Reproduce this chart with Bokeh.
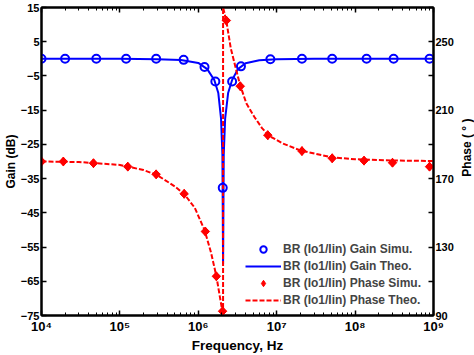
import math
from bokeh.plotting import figure
from bokeh.layouts import row
from bokeh.models import (Range1d, LinearAxis, LogAxis, Legend, LegendItem,
                          FixedTicker, LogTicker)
from bokeh.core.properties import value
from bokeh.embed import file_html
from bokeh.resources import INLINE

# ---------------- data ----------------
gain_sim_f = [1e4, 2e4, 5e4, 1.2e5, 2.9e5, 6.5e5, 1.2e6, 1.65e6, 2.05e6,
              2.7e6, 3.5e6, 8.3e6, 2.1e7, 5.1e7, 1.4e8, 3.1e8, 8.9e8]
gain_sim_db = [0, 0, 0, 0, 0, -0.3, -2.4, -6.6, -37.7,
               -6.6, -2.2, -0.1, 0, 0, 0, 0, 0]

phase_sim_f = [1e4, 1.9e4, 4.6e4, 1.26e5, 2.9e5, 6.6e5, 1.23e6, 1.7e6, 2.04e6,
               2.28e6, 3.43e6, 7.7e6, 2.1e7, 5.1e7, 1.3e8, 3.0e8, 8.9e8]
phase_sim_deg = [180, 180, 179, 177, 172.5, 161.1, 139.1, 112.9, 92.5,
                 262.4, 224, 195.4, 186.1, 181.9, 180.5, 179.3, 177]

gain_theo_f = [1e4, 1e5, 3e5, 6e5, 1e6, 1.3e6, 1.6e6, 1.8e6, 1.95e6, 2.03e6,
               2.07e6, 2.11e6, 2.2e6, 2.4e6, 2.7e6, 3.2e6, 4e6, 6e6, 1e7,
               3e7, 1e8, 1e9]
gain_theo_db = [0, 0, -0.1, -0.35, -1.2, -3.0, -6.2, -10, -17.5, -28,
                -60, -28, -17.5, -10, -6.2, -3.0, -1.3, -0.4, -0.1,
                0, 0, 0]

phase_theo_f = [1e4, 3e4, 1e5, 2e5, 3e5, 5e5, 6.6e5, 9e5, 1.2e6, 1.45e6,
                1.7e6, 1.9e6, 2e6, 2.07e6, 2.07e6, 2.15e6, 2.3e6, 2.6e6,
                2.95e6, 3.4e6, 4.1e6, 5.2e6, 6.5e6, 8e6, 1.2e7, 2e7, 5e7,
                1e8, 3e8, 1e9]
phase_theo_deg = [180, 179.7, 178, 175, 172, 165.5, 161, 153, 140, 127,
                  113, 100, 94, 90, 270, 267, 261, 246,
                  236, 225, 214, 206, 199.5, 195, 190.5, 186.5, 182.5,
                  181.3, 180.6, 180.3]

x_ticks = [1e4, 1e5, 1e6, 1e7, 1e8, 1e9]
x_tick_labels = ["10⁴", "10⁵", "10⁶", "10⁷", "10⁸", "10⁹"]
gain_ticks = [15, 5, -5, -15, -25, -35, -45, -55, -65, -75]
phase_ticks = [90, 110, 130, 150, 170, 190, 210, 230, 250, 270]
phase_labels = {90: "90", 110: "", 130: "130", 150: "", 170: "170",
                190: "", 210: "210", 230: "", 250: "250", 270: ""}

legend_labels = ["BR (Io1/Iin) Gain Simu.", "BR (Io1/Iin) Gain Theo.",
                 "BR (Io1/Iin) Phase Simu.", "BR (Io1/Iin) Phase Theo."]
phase_axis_title = "Phase ( ° )"

BLUE = "#0000FF"
RED = "#FF0000"
FONT = "Liberation Sans"

p = figure(width=460, height=355, x_axis_type="log",
           x_range=Range1d(1e4, 1e9), y_range=Range1d(-75, 15),
           output_backend="svg", toolbar_location=None,
           min_border_left=36, min_border_right=27,
           min_border_top=7, min_border_bottom=39)
p.extra_y_ranges = {"phase": Range1d(90, 270)}
p.xgrid.visible = False
p.ygrid.visible = False
p.outline_line_color = "black"
p.outline_line_width = 2
p.background_fill_color = "white"
p.border_fill_color = "white"

# bottom axis
xa = p.xaxis[0]
xa.ticker = LogTicker(num_minor_ticks=10)
xa.major_label_overrides = {t: l for t, l in zip(x_ticks, x_tick_labels)}
xa.axis_label = "Frequency, Hz"

# left axis
ya = p.yaxis[0]
ya.ticker = FixedTicker(ticks=gain_ticks)
ya.axis_label = "Gain (dB)"

# right axis (phase) - its title is drawn in the side strip below
ra = LinearAxis(y_range_name="phase", ticker=FixedTicker(ticks=phase_ticks),
                major_label_overrides={k: v for k, v in phase_labels.items()})
p.add_layout(ra, "right")

# top axis: ticks only
ta = LogAxis(ticker=LogTicker(num_minor_ticks=10),
             major_label_overrides={t: "" for t in x_ticks})
p.add_layout(ta, "above")

for ax in [xa, ya, ra, ta]:
    ax.axis_line_width = 2
    ax.axis_line_color = "black"
    ax.major_tick_in = 5
    ax.major_tick_out = 0
    ax.minor_tick_in = 3
    ax.minor_tick_out = 0
    ax.major_tick_line_width = 1.5
    ax.major_label_text_font = FONT
    ax.major_label_text_font_style = "bold"
    ax.major_label_text_font_size = "11px"
    ax.major_label_text_color = "black"
    ax.axis_label_text_font = FONT
    ax.axis_label_text_font_style = "bold"
    ax.axis_label_text_font_size = "12px"
    ax.axis_label_text_color = "black"
    ax.major_label_standoff = 2
    ax.axis_label_standoff = 0
ya.minor_tick_in = 0
ra.minor_tick_in = 0
xa.major_label_text_font_size = "13px"
xa.axis_label_text_font_size = "13.5px"
xa.major_label_standoff = 3
xa.axis_label_standoff = 1
ta.major_label_standoff = 0

# lines
r_gt = p.line(gain_theo_f, gain_theo_db, line_color=BLUE, line_width=2)
r_pt = p.line(phase_theo_f, phase_theo_deg, line_color=RED, line_width=2,
              line_dash="5 2", y_range_name="phase")
r_gs = p.scatter(gain_sim_f, gain_sim_db, marker="circle", size=8,
                 line_color=BLUE, line_width=2, fill_color=None)
# diamond markers: a narrow diamond (also used as legend swatch) under a
# square turned by 45 degrees
r_ps_key = p.scatter(phase_sim_f, phase_sim_deg, marker="diamond", size=9,
                     line_color=RED, line_width=1, fill_color=RED,
                     y_range_name="phase")
r_ps = p.scatter(phase_sim_f, phase_sim_deg, marker="square", size=6,
                 angle=math.pi / 4, line_color=RED, line_width=1,
                 fill_color=RED, y_range_name="phase")

legend = Legend(items=[LegendItem(label=legend_labels[0], renderers=[r_gs]),
                       LegendItem(label=legend_labels[1], renderers=[r_gt]),
                       LegendItem(label=legend_labels[2], renderers=[r_ps_key]),
                       LegendItem(label=legend_labels[3], renderers=[r_pt])],
                location=(204, 7), padding=0, margin=0, spacing=1,
                glyph_width=36, glyph_height=16, label_height=16,
                label_standoff=2,
                label_text_font=FONT, label_text_font_style="bold",
                label_text_font_size="12px",
                background_fill_alpha=0, border_line_alpha=0)
p.add_layout(legend)

# side strip carrying the right-hand axis title, reading bottom to top
s = figure(width=14, height=355, x_range=Range1d(0, 1), y_range=Range1d(0, 355),
           output_backend="svg", toolbar_location=None,
           x_axis_location=None, y_axis_location=None,
           min_border_left=0, min_border_right=0,
           min_border_top=0, min_border_bottom=0)
s.xgrid.visible = False
s.ygrid.visible = False
s.outline_line_color = None
s.background_fill_color = "white"
s.border_fill_color = "white"
s.text(x=[0.45], y=[355 - 161.5], text=[phase_axis_title], angle=math.pi / 2,
       text_align="center", text_baseline="middle",
       text_font=value(FONT), text_font_style="bold",
       text_font_size="12px", text_color="black")

layout = row(p, s, spacing=0)
open("out.html", "w").write(file_html(layout, INLINE))
